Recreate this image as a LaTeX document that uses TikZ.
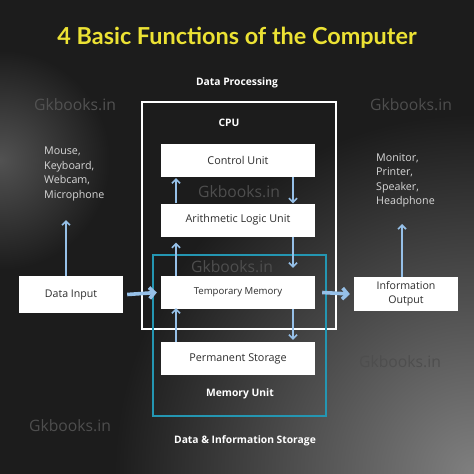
\documentclass[tikz,border=0pt]{standalone}
\usepackage{fontspec}
\setmainfont{Open Sans}
\newfontfamily\titlefont{Lato}
\usetikzlibrary{arrows.meta,positioning,calc,shadings}

\definecolor{titleyellow}{RGB}{236,226,52}
\definecolor{flowblue}{RGB}{150,192,232}
\definecolor{memteal}{RGB}{36,150,178}
\definecolor{boxtext}{RGB}{45,45,45}
\definecolor{wmgray}{RGB}{78,78,78}
\definecolor{devgray}{RGB}{215,215,215}
\definecolor{bgbase}{RGB}{28,28,28}

\begin{document}
\begin{tikzpicture}[x=1pt,y=-1pt]
\tikzstyle{unit}=[rectangle, fill=white, text=boxtext, minimum width=154pt, minimum height=33pt, inner sep=0pt, font=\fontsize{10.8}{12}\selectfont]
\tikzstyle{io}=[unit, minimum width=104pt, align=center, font=\fontsize{10.6}{14}\selectfont]
\tikzstyle{frame}=[rectangle, draw=white, line width=1.4pt, inner sep=0pt]
\tikzstyle{caption}=[text=white, font=\bfseries\fontsize{10.3}{12}\selectfont]
\tikzstyle{devices}=[text=devgray, align=left, inner sep=0pt, font=\fontsize{10.7}{14.5}\selectfont]
\tikzstyle{wmark}=[text=wmgray, font=\fontsize{15.7}{18}\selectfont]
\tikzstyle{flow}=[-{Straight Barb[length=4pt,width=8pt]}, line width=1.6pt, draw=flowblue]
\tikzstyle{bigflow}=[-{Straight Barb[length=5pt,width=11pt]}, line width=3.6pt, draw=flowblue]

  % background
  \begin{scope}
    \clip (0,0) rectangle (474,474);
    \fill[bgbase] (0,0) rectangle (474,474);
    \shade[inner color=black!50, outer color=bgbase] (474,474) circle (360);
    \shade[inner color=black!68, outer color=bgbase] (0,160) circle (110);
  \end{scope}

  % watermarks
  \foreach \x/\y [count=\i] in {411/105, 239/192, 232/267, 400/362, 70/426}
    \node[wmark] (wm\i) at (\x,\y) {Gkbooks.in};
  \node[wmark, text=black!68] (wm0) at (75,105) {Gkbooks.in};

  \node[text=titleyellow, font=\titlefont\bfseries\fontsize{23.4}{26}\selectfont] (title) at (237,38) {4 Basic Functions of the Computer};

  \node[caption] (proc) at (237,83) {Data Processing};
  \node[caption] (store) at (245,441) {Data \& Information Storage};

  % containers
  \node[frame, minimum width=194pt, minimum height=227pt] (cpu) at (239,215.5) {};
  \node[frame, draw=memteal, minimum width=173pt, minimum height=161pt] (mem) at (239.5,335.5) {};
  \node[caption] (cpulbl) at (229,123) {CPU};
  \node[caption] (memlbl) at (240,394) {Memory Unit};

  % up and down lanes
  \coordinate (ux) at (176,0);
  \coordinate (dx) at (293,0);
  \coordinate (inup) at (66,220);
  \coordinate (outup) at (402,224);

  \node[unit] (cu) at (238,160.5) {Control Unit};
  \node[unit] (alu) at (238,220) {Arithmetic Logic Unit};
  \node[unit, font=\fontsize{9.6}{11}\selectfont] (tm) at (238,292.5) {Temporary Memory};
  \node[unit] (ps) at (238,358.5) {Permanent Storage};

  \node[io, minimum height=37pt] (input) at (71,294.5) {Data Input};
  \node[io, minimum height=34pt] (output) at (406,294) {Information\\Output};

  \node[devices, anchor=north west] (indev) at (44,147) {Mouse,\\Keyboard,\\Webcam,\\Microphone};
  \node[devices, anchor=north west] (outdev) at (376,153) {Monitor,\\Printer,\\Speaker,\\Headphone};

  \draw[flow] (alu.north -| ux) -- ([yshift=-1pt]cu.south -| ux);
  \draw[flow] (cu.south -| dx) -- (alu.north -| dx);
  \draw[flow, shorten >=6pt] (tm.north -| ux) -- (alu.south -| ux);
  \draw[flow, shorten >=8pt] (alu.south -| dx) -- (tm.north -| dx);
  \draw[flow] (ps.north -| ux) -- ([yshift=1pt]tm.south -| ux);
  \draw[flow, shorten >=2pt] (tm.south -| dx) -- (ps.north -| dx);

  \draw[flow] (input.north -| inup) -- (inup);
  \draw[flow] (output.north -| outup) -- (outup);

  \draw[bigflow] ([xshift=4pt]input.east) -- ([xshift=-4pt]tm.west);
  \draw[bigflow] ([xshift=7pt]tm.east) -- ([xshift=-4pt]output.west);

\end{tikzpicture}
\end{document}
